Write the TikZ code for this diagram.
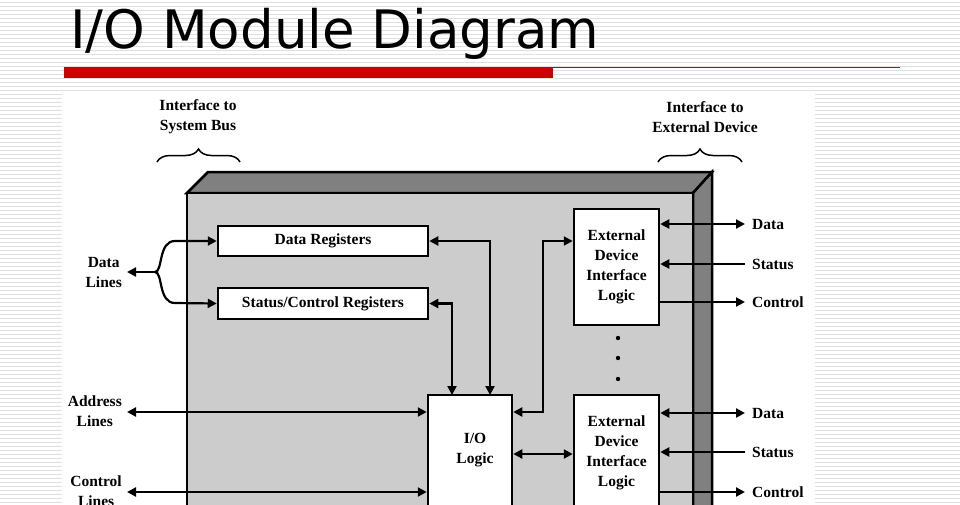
\documentclass[tikz,border=0pt]{standalone}
\usepackage{fontspec}
\setmainfont{Liberation Serif}
\newfontfamily\titlefont{DejaVu Sans}
\usetikzlibrary{arrows.meta,decorations.pathreplacing}
\begin{document}
\begin{tikzpicture}[x=1pt,y=-1pt,
  lbl/.style={font=\bfseries\fontsize{15.5}{20}\selectfont,align=center,inner sep=0},
  bx/.style={draw,line width=2.5pt,fill=white,inner sep=0},
  ln/.style={line width=2.2pt},
  tip/.style={-{Triangle[length=9pt,width=9pt]}},
  dtip/.style={{Triangle[length=9pt,width=9pt]}-{Triangle[length=9pt,width=9pt]}},
  brc/.style={decorate,decoration={brace,amplitude=13pt,aspect=0.5},line width=1.5pt}]
\useasboundingbox (0,0) rectangle (960,504);
\fill[white] (0,0) rectangle (960,504);
\foreach \y in {2,6,...,504} \draw[black!12,line width=0.8pt] (0,\y) -- (960,\y);
\fill[white] (62,92) rectangle (815,504);
% title
\node[anchor=base west,inner sep=0,font=\titlefont\fontsize{53}{55}\selectfont,xscale=1] (title) at (70,48) {I/O Module Diagram};
\fill[red!80!black] (64,67) rectangle (553,78);
\draw[red!80!black,line width=0.8pt] (553,67.5) -- (900,67.5);
% 3D box
\fill[black!50,draw=black,line width=2.5pt] (187,193) -- (208,172) -- (712,172) -- (693,193) -- cycle;
\fill[black!50,draw=black,line width=2.5pt] (693,193) -- (712,172) -- (712,510) -- (693,510) -- cycle;
\fill[black!20,draw=black,line width=2.5pt] (187,193) rectangle (693,510);
% boxes
\node[bx,lbl,minimum width=210pt,minimum height=30pt] (dr) at (323,241) {Data Registers};
\node[bx,lbl,minimum width=210pt,minimum height=31pt] (sr) at (323,303.5) {Status/Control Registers};
\node[bx,minimum width=85pt,minimum height=116pt] (e1) at (616.5,267) {};
\node[lbl] at (e1) {External\\Device\\Interface\\Logic};
\node[bx,minimum width=85pt,minimum height=120pt] (e2) at (616.5,455) {};
\node[lbl] at (616.5,453) {External\\Device\\Interface\\Logic};
\node[bx,minimum width=84pt,minimum height=120pt] (io) at (470,455) {};
\node[lbl] at (475,450) {I/O\\Logic};
\foreach \y in {338,358,379} \fill (618,\y) circle (2.2pt);
% left labels
\node[lbl,anchor=east] (dl) at (122,272) {Data\\Lines};
\node[lbl,anchor=east] (al) at (122,411) {Address\\Lines};
\node[lbl,anchor=east] (cl) at (122,491) {Control\\Lines};
\coordinate (dlp) at (127,272);
\draw[ln,tip] (155,272) .. controls (163,272) and (158,241) .. (175,241) -- (dr.west);
\draw[ln,tip] (155,272) .. controls (163,272) and (158,303) .. (175,303) -- (sr.west);
\draw[ln,tip] (155,272) -- (dlp);
\draw[ln,dtip] (127,412) -- (io.west|-0,412);
\draw[ln,dtip] (127,492) -- (io.west|-0,492);
% internal
\draw[ln,dtip] (dr.east) -- (490,241) -- (490,395);
\draw[ln,dtip] (sr.east) -- (452,303.5) -- (452,395);
\draw[ln,dtip] (io.east|-0,412) -- (543,412) -- (543,241) -- (e1.west|-0,241);
\draw[ln,dtip] (io.east|-0,454) -- (e2.west|-0,454);
% right side
\foreach \b/\d/\s/\c in {e1/224/264/302, e2/413/452/492}{
  \draw[ln,dtip] (\b.east|-0,\d) -- (745,\d);
  \draw[ln,tip] (745,\s) -- (\b.east|-0,\s);
  \draw[ln,tip] (\b.east|-0,\c) -- (745,\c);
}
\node[lbl,anchor=west] (d1) at (752,224) {Data};
\node[lbl,anchor=west] (s1) at (752,264) {Status};
\node[lbl,anchor=west] (c1) at (752,302) {Control};
\node[lbl,anchor=west] (d2) at (752,413) {Data};
\node[lbl,anchor=west] (s2) at (752,452) {Status};
\node[lbl,anchor=west] (c2) at (752,492) {Control};
% interface labels
\node[lbl] (isb) at (198,117) {Interface to\\System Bus};
\node[lbl] (ied) at (705,117) {Interface to\\External Device};
\draw[brc] (157,162) -- (240,162);
\draw[brc] (658,162) -- (742,162);
\end{tikzpicture}
\end{document}
